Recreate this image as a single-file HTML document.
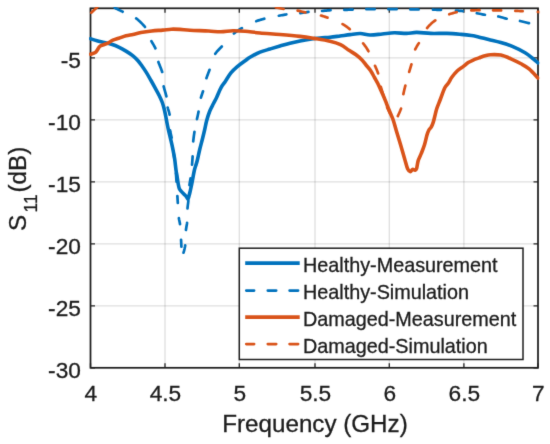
<!DOCTYPE html>
<html><head><meta charset="utf-8"><title>S11 plot</title>
<style>
html,body{margin:0;padding:0;background:#fff;}
body{width:550px;height:444px;overflow:hidden;}

svg{display:block;font-family:"Liberation Sans",Arial,sans-serif;fill:#262626;}
svg text{fill:#1c1c1c;stroke:#1c1c1c;stroke-width:0.3px;}
</style></head><body>
<svg width="550" height="444" viewBox="0 0 550 444"><defs><filter id="bl" color-interpolation-filters="sRGB" x="0" y="0" width="550" height="444" filterUnits="userSpaceOnUse"><feConvolveMatrix order="3" kernelMatrix="0.01000 0.08000 0.01000 0.08000 0.64000 0.08000 0.01000 0.08000 0.01000" edgeMode="duplicate"/></filter><clipPath id="c"><rect x="89.10" y="6.90" width="450.30" height="362.30"/></clipPath></defs><g filter="url(#bl)"><rect width="550" height="444" fill="#fff"/><path d="M165.00 8.30V367.80M239.30 8.30V367.80M315.00 8.30V367.80M389.30 8.30V367.80M463.90 8.30V367.80" stroke="#262626" stroke-opacity="0.15" stroke-width="1.3" fill="none"/><path d="M90.50 57.80H538.00M90.50 119.80H538.00M90.50 181.80H538.00M90.50 243.80H538.00M90.50 305.80H538.00" stroke="#262626" stroke-opacity="0.15" stroke-width="1.3" fill="none"/><path d="M90.50 367.80v-4.50M90.50 8.30v4.50M165.00 367.80v-4.50M165.00 8.30v4.50M239.30 367.80v-4.50M239.30 8.30v4.50M315.00 367.80v-4.50M315.00 8.30v4.50M389.30 367.80v-4.50M389.30 8.30v4.50M463.90 367.80v-4.50M463.90 8.30v4.50M538.00 367.80v-4.50M538.00 8.30v4.50M90.50 57.80h4.50M538.00 57.80h-4.50M90.50 119.80h4.50M538.00 119.80h-4.50M90.50 181.80h4.50M538.00 181.80h-4.50M90.50 243.80h4.50M538.00 243.80h-4.50M90.50 305.80h4.50M538.00 305.80h-4.50M90.50 367.80h4.50M538.00 367.80h-4.50" stroke="#262626" stroke-width="1.3" fill="none"/><rect x="90.5" y="8.3" width="447.50" height="359.50" stroke="#1e1e1e" stroke-width="1.75" fill="none"/><g clip-path="url(#c)" fill="none" stroke-linejoin="round" stroke-linecap="round"><path d="M90.50 38.70 C91.58 39.05 94.72 40.18 97.00 40.80 C99.28 41.42 101.78 41.82 104.20 42.40 C106.62 42.98 109.08 43.52 111.50 44.30 C113.92 45.08 116.28 45.97 118.70 47.10 C121.12 48.23 123.62 49.65 126.00 51.10 C128.38 52.55 131.03 54.23 133.00 55.80 C134.97 57.37 136.30 58.80 137.80 60.50 C139.30 62.20 140.58 64.02 142.00 66.00 C143.42 67.98 144.80 69.98 146.30 72.40 C147.80 74.82 149.47 77.80 151.00 80.50 C152.53 83.20 154.13 86.10 155.50 88.60 C156.87 91.10 158.07 93.18 159.20 95.50 C160.33 97.82 161.45 100.17 162.30 102.50 C163.15 104.83 163.73 107.25 164.30 109.50 C164.87 111.75 165.22 113.58 165.70 116.00 C166.18 118.42 166.70 121.50 167.20 124.00 C167.70 126.50 168.15 128.58 168.70 131.00 C169.25 133.42 169.85 135.70 170.50 138.50 C171.15 141.30 171.92 144.45 172.60 147.80 C173.28 151.15 174.03 154.90 174.60 158.60 C175.17 162.30 175.58 167.02 176.00 170.00 C176.42 172.98 176.75 174.30 177.10 176.50 C177.45 178.70 177.73 181.18 178.10 183.20 C178.47 185.22 178.77 187.23 179.30 188.60 C179.83 189.97 180.52 190.47 181.30 191.40 C182.08 192.33 183.17 193.33 184.00 194.20 C184.83 195.07 185.63 195.77 186.30 196.60 C186.97 197.43 187.57 199.27 188.00 199.20 C188.43 199.13 188.57 197.40 188.90 196.20 C189.23 195.00 189.67 193.37 190.00 192.00 C190.33 190.63 190.52 189.82 190.90 188.00 C191.28 186.18 191.75 183.93 192.30 181.10 C192.85 178.27 193.65 173.52 194.20 171.00 C194.75 168.48 195.10 167.70 195.60 166.00 C196.10 164.30 196.53 163.47 197.20 160.80 C197.87 158.13 198.75 153.55 199.60 150.00 C200.45 146.45 201.47 142.83 202.30 139.50 C203.13 136.17 203.87 133.17 204.60 130.00 C205.33 126.83 205.83 123.67 206.70 120.50 C207.57 117.33 208.67 113.83 209.80 111.00 C210.93 108.17 212.37 105.75 213.50 103.50 C214.63 101.25 215.62 99.58 216.60 97.50 C217.58 95.42 218.53 92.87 219.40 91.00 C220.27 89.13 220.82 87.90 221.80 86.30 C222.78 84.70 223.78 83.63 225.30 81.40 C226.82 79.17 228.95 75.32 230.90 72.90 C232.85 70.48 234.63 68.92 237.00 66.90 C239.37 64.88 242.93 62.40 245.10 60.80 C247.27 59.20 247.52 58.73 250.00 57.30 C252.48 55.87 256.67 53.58 260.00 52.20 C263.33 50.82 266.67 50.03 270.00 49.00 C273.33 47.97 276.67 46.97 280.00 46.00 C283.33 45.03 286.67 44.03 290.00 43.20 C293.33 42.37 296.67 41.67 300.00 41.00 C303.33 40.33 306.67 39.70 310.00 39.20 C313.33 38.70 316.67 38.32 320.00 38.00 C323.33 37.68 326.67 37.63 330.00 37.30 C333.33 36.97 336.65 36.45 340.00 36.00 C343.35 35.55 346.72 35.02 350.10 34.60 C353.48 34.18 356.98 33.43 360.30 33.50 C363.62 33.57 366.35 34.92 370.00 35.00 C373.65 35.08 378.15 34.37 382.20 34.00 C386.25 33.63 390.25 32.90 394.30 32.80 C398.35 32.70 402.78 33.47 406.50 33.40 C410.22 33.33 412.55 32.40 416.60 32.40 C420.65 32.40 425.73 33.23 430.80 33.40 C435.87 33.57 441.93 33.23 447.00 33.40 C452.07 33.57 457.15 34.05 461.20 34.40 C465.25 34.75 468.75 35.15 471.30 35.50 C473.85 35.85 473.62 35.83 476.50 36.50 C479.38 37.17 484.55 38.50 488.60 39.50 C492.65 40.50 496.75 41.32 500.80 42.50 C504.85 43.68 508.85 44.90 512.90 46.60 C516.95 48.30 521.72 50.67 525.10 52.70 C528.48 54.73 531.05 57.12 533.20 58.80 C535.35 60.48 537.20 62.13 538.00 62.80" stroke="#0072BD" stroke-width="3.6"/><path d="M114.72 7.87L115.95 8.45L117.23 9.07L118.53 9.70L119.86 10.35L121.20 11.00L122.55 11.65L122.68 11.72M136.18 18.41L136.98 19.03L137.94 19.83L138.91 20.67L139.88 21.54L140.84 22.44L141.77 23.37L142.67 24.31L143.54 25.26L144.35 26.21L144.99 27.02M151.40 41.11L151.91 42.03L152.60 43.24L153.30 44.41L153.98 45.57L154.63 46.73L155.22 47.93L155.41 48.34M158.40 61.99L158.84 63.24L159.25 64.29L159.67 65.35L160.11 66.43L160.54 67.50L160.97 68.58L161.38 69.65L161.76 70.71L162.09 71.76L162.16 71.99M163.66 86.32L163.98 87.65L164.27 88.76L164.58 89.87L164.90 90.99L165.23 92.10L165.55 93.20L165.86 94.27L166.14 95.31L166.40 96.31L166.41 96.38M167.68 107.52L168.04 108.87L168.40 110.03L168.76 111.23L169.11 112.46L169.42 113.73L169.61 114.66M170.06 130.24L170.28 131.60L170.54 132.85L170.82 134.07L171.11 135.27L171.40 136.48L171.66 137.67M173.46 151.34L173.63 152.75L173.80 154.12L173.96 155.50L174.12 156.88L174.28 158.25L174.44 159.62L174.45 159.66M175.92 173.34L176.03 174.73L176.13 176.09L176.23 177.46L176.32 178.82L176.42 180.20L176.51 181.59L176.51 181.65M177.38 196.05L177.45 197.16L177.52 198.29L177.59 199.39L177.66 200.51L177.74 201.66L177.81 202.85M178.87 218.14L179.04 219.15L179.24 220.16L179.52 221.45L179.73 222.43L179.92 223.48L180.03 224.16M181.07 239.75L181.14 241.18L181.20 242.51L181.26 243.79L181.31 244.99L181.37 246.11L181.40 246.65M183.54 252.72L183.83 251.69L184.17 250.41L184.51 248.99L184.72 248.00L184.93 246.98L185.11 245.97L185.21 245.34M185.93 229.96L186.11 228.69L186.30 227.50L186.51 226.34L186.72 225.19L186.91 224.02L187.07 222.84M187.50 208.35L187.62 207.10L187.76 205.88L187.91 204.68L188.07 203.46L188.22 202.21L188.37 200.90L188.38 200.84M189.45 185.16L189.61 183.91L189.79 182.75L189.97 181.62L190.16 180.52L190.35 179.40L190.52 178.34M192.02 164.66L192.14 163.28L192.25 161.93L192.35 160.58L192.45 159.22L192.54 157.84L192.62 156.44L192.63 156.35M193.22 141.36L193.35 140.12L193.47 139.07L193.59 138.03L193.73 136.98L193.87 135.94L194.02 134.92L194.17 133.90L194.32 132.90L194.49 131.83M196.97 119.08L197.22 117.90L197.49 116.67L197.76 115.42L198.03 114.18L198.29 112.91L198.55 111.63M200.93 97.69L201.23 96.62L201.59 95.52L201.95 94.45L202.32 93.38L202.69 92.30L203.02 91.29M206.41 78.21L206.89 76.84L207.37 75.52L207.88 74.19L208.39 72.83L208.93 71.44L209.28 70.48L209.54 69.77M215.29 53.84L216.02 52.79L216.64 51.98L217.29 51.21L217.96 50.47L218.65 49.73L219.35 49.00L220.08 48.27L220.82 47.51L221.56 46.74L221.79 46.50M233.92 33.52L235.00 32.65L235.82 32.02L236.65 31.42L237.48 30.84L238.31 30.29L239.57 29.49L240.43 28.96L241.30 28.44L241.93 28.08M256.26 21.21L257.27 20.84L258.58 20.39L259.87 19.97L261.16 19.59L262.45 19.22L263.77 18.87L264.29 18.73M278.83 15.75L280.14 15.51L281.40 15.28L282.64 15.06L283.87 14.86L285.11 14.66L286.36 14.48M300.34 13.14L301.73 12.94L303.08 12.74L304.43 12.53L305.76 12.33L307.10 12.13L308.45 11.95L308.46 11.95M322.05 10.99L323.48 10.85L324.88 10.71L326.29 10.56L327.69 10.42L329.10 10.29L330.50 10.18L330.55 10.18M344.35 9.96L345.76 9.90L347.13 9.83L348.51 9.76L349.88 9.69L351.25 9.62L352.63 9.56L352.65 9.55M366.35 9.19L367.75 9.18L369.12 9.18L370.50 9.18L371.88 9.19L373.25 9.19L374.62 9.20L374.65 9.20M388.35 9.20L389.75 9.20L391.12 9.19L392.50 9.19L393.88 9.19L395.25 9.19L396.62 9.19L396.65 9.19M410.35 9.42L411.74 9.43L413.10 9.44L414.46 9.45L415.83 9.46L417.21 9.47L418.60 9.48L418.65 9.48M432.95 9.72L434.32 9.74L435.65 9.76L436.96 9.78L438.28 9.80L439.62 9.82L440.99 9.86L441.05 9.86M455.95 10.58L457.10 10.64L458.24 10.71L459.34 10.78L460.44 10.85L461.57 10.95L462.66 11.05M476.83 13.24L478.25 13.50L479.61 13.77L480.95 14.04L482.29 14.30L483.62 14.55L484.96 14.79L484.97 14.79M498.32 16.47L499.74 16.81L501.12 17.18L502.50 17.57L503.88 17.96L505.26 18.34L506.64 18.69L506.68 18.70M520.02 20.98L521.12 21.23L522.13 21.46L523.16 21.70L524.18 21.95L525.19 22.21L526.20 22.46L527.17 22.71L528.58 23.07L528.99 23.17" stroke="#0072BD" stroke-width="2.7"/><path d="M90.50 54.20 C91.30 53.92 94.12 53.27 95.30 52.50 C96.48 51.73 96.85 50.63 97.60 49.60 C98.35 48.57 98.70 47.15 99.80 46.30 C100.90 45.45 102.87 45.03 104.20 44.50 C105.53 43.97 106.35 43.82 107.80 43.10 C109.25 42.38 111.08 41.00 112.90 40.20 C114.72 39.40 116.52 39.05 118.70 38.30 C120.88 37.55 123.62 36.35 126.00 35.70 C128.38 35.05 130.52 34.92 133.00 34.40 C135.48 33.88 137.77 33.17 140.90 32.60 C144.03 32.03 148.17 31.42 151.80 31.00 C155.43 30.58 159.43 30.40 162.70 30.10 C165.97 29.80 168.52 29.32 171.40 29.20 C174.28 29.08 176.90 29.23 180.00 29.40 C183.10 29.57 185.23 29.93 190.00 30.20 C194.77 30.47 203.47 30.73 208.60 31.00 C213.73 31.27 216.75 31.83 220.80 31.80 C224.85 31.77 228.85 30.88 232.90 30.80 C236.95 30.72 240.58 30.93 245.10 31.30 C249.62 31.67 254.18 32.47 260.00 33.00 C265.82 33.53 273.33 33.93 280.00 34.50 C286.67 35.07 294.33 35.75 300.00 36.40 C305.67 37.05 309.00 37.60 314.00 38.40 C319.00 39.20 325.58 40.17 330.00 41.20 C334.42 42.23 337.33 43.08 340.50 44.60 C343.67 46.12 346.42 48.60 349.00 50.30 C351.58 52.00 353.83 53.18 356.00 54.80 C358.17 56.42 360.33 58.30 362.00 60.00 C363.67 61.70 364.58 63.25 366.00 65.00 C367.42 66.75 369.08 68.42 370.50 70.50 C371.92 72.58 373.28 75.33 374.50 77.50 C375.72 79.67 376.72 81.33 377.80 83.50 C378.88 85.67 379.97 88.22 381.00 90.50 C382.03 92.78 383.07 94.98 384.00 97.20 C384.93 99.42 385.52 101.08 386.60 103.80 C387.68 106.52 389.40 110.80 390.50 113.50 C391.60 116.20 392.22 117.08 393.20 120.00 C394.18 122.92 395.18 126.92 396.40 131.00 C397.62 135.08 399.13 139.88 400.50 144.50 C401.87 149.12 403.42 154.65 404.60 158.70 C405.78 162.75 406.65 166.65 407.60 168.80 C408.55 170.95 409.47 171.50 410.30 171.60 C411.13 171.70 411.82 169.63 412.60 169.40 C413.38 169.17 414.33 170.35 415.00 170.20 C415.67 170.05 416.07 170.10 416.60 168.50 C417.13 166.90 417.42 163.12 418.20 160.60 C418.98 158.08 420.25 156.03 421.30 153.40 C422.35 150.77 423.57 147.82 424.50 144.80 C425.43 141.78 426.17 137.77 426.90 135.30 C427.63 132.83 428.18 131.35 428.90 130.00 C429.62 128.65 430.48 128.47 431.20 127.20 C431.92 125.93 432.60 124.22 433.20 122.40 C433.80 120.58 434.20 118.62 434.80 116.30 C435.40 113.98 435.88 111.30 436.80 108.50 C437.72 105.70 438.97 102.95 440.30 99.50 C441.63 96.05 443.45 90.55 444.80 87.80 C446.15 85.05 447.20 84.80 448.40 83.00 C449.60 81.20 450.50 79.05 452.00 77.00 C453.50 74.95 455.60 72.38 457.40 70.70 C459.20 69.02 461.00 68.25 462.80 66.90 C464.60 65.55 466.40 63.77 468.20 62.60 C470.00 61.43 471.80 60.68 473.60 59.90 C475.40 59.12 477.10 58.58 479.00 57.90 C480.90 57.22 483.07 56.33 485.00 55.80 C486.93 55.27 487.97 54.82 490.60 54.70 C493.23 54.58 497.42 54.42 500.80 55.10 C504.18 55.78 507.53 57.35 510.90 58.80 C514.27 60.25 517.97 62.12 521.00 63.80 C524.03 65.48 526.27 66.53 529.10 68.90 C531.93 71.27 536.52 76.48 538.00 78.00" stroke="#D95319" stroke-width="3.6"/><path d="M91.29 12.68L92.28 11.74L93.17 10.91L94.10 10.05L95.01 9.19L95.86 8.40L96.60 7.70L97.49 6.85L98.37 6.02L99.19 5.23L99.93 4.53L100.03 4.43" stroke="#D95319" stroke-width="2.7"/><path d="M275.92 7.48L277.24 7.77L278.51 8.04L279.76 8.29L281.01 8.54L282.28 8.77L283.57 8.99M297.63 10.63L298.91 10.89L300.16 11.17L301.40 11.47L302.65 11.77L303.94 12.09L305.28 12.40L305.38 12.42M321.01 15.54L322.17 15.86L323.24 16.19L324.27 16.53L325.30 16.89L326.37 17.28L327.52 17.72L327.54 17.72M342.58 24.05L343.53 24.60L344.69 25.32L345.80 26.06L346.90 26.84L348.00 27.70L349.15 28.65L349.79 29.20M363.15 43.35L364.05 44.51L364.67 45.34L365.26 46.15L366.08 47.35L366.86 48.55L367.61 49.78L368.35 51.05L368.44 51.22M375.03 65.84L375.46 66.83L376.01 68.10L376.54 69.33L377.05 70.55L377.52 71.77L377.97 73.00L378.10 73.41M380.84 86.81L381.11 87.80L381.52 89.21L381.95 90.61L382.39 92.01L382.83 93.40L383.26 94.75L383.41 95.21M387.10 107.26L387.56 108.37L388.09 109.57L388.64 110.76L389.20 111.90L389.75 112.97L390.12 113.64M397.83 116.06L398.32 115.00L398.89 113.77L399.49 112.44L399.89 111.52L400.28 110.58L400.64 109.63L400.98 108.69L401.01 108.59M403.36 94.17L403.57 93.13L403.88 91.72L404.20 90.32L404.54 88.93L404.88 87.54L405.23 86.15L405.37 85.61M409.18 71.90L409.56 70.64L409.94 69.40L410.31 68.18L410.69 66.94L411.06 65.68L411.43 64.37L411.45 64.30M415.20 49.45L415.72 48.35L416.28 47.32L416.86 46.33L417.48 45.34L418.12 44.30L418.80 43.17L418.85 43.08M427.04 28.04L427.68 27.27L428.47 26.39L429.29 25.52L430.13 24.67L430.99 23.86L431.87 23.07L432.77 22.30L433.67 21.57L434.58 20.88L435.29 20.36M449.27 14.25L450.57 13.82L451.78 13.43L452.98 13.08L454.17 12.76L455.40 12.45L456.67 12.17L456.68 12.17M471.35 10.41L472.80 10.34L474.17 10.29L475.53 10.26L476.87 10.23L478.21 10.22L479.55 10.21L479.55 10.21M493.05 10.32L494.38 10.34L495.72 10.36L497.06 10.39L498.40 10.41L499.75 10.44L501.12 10.47L501.15 10.47M515.35 10.85L516.55 10.89L517.75 10.93L518.94 10.98L520.13 11.03L521.36 11.08L522.64 11.14L522.65 11.14M537.85 11.89L538.97 11.98L539.66 12.05" stroke="#D95319" stroke-width="2.7"/></g><text x="90.90" y="400.6" font-size="22.7" text-anchor="middle">4</text><text x="165.40" y="400.6" font-size="22.7" text-anchor="middle">4.5</text><text x="239.70" y="400.6" font-size="22.7" text-anchor="middle">5</text><text x="315.40" y="400.6" font-size="22.7" text-anchor="middle">5.5</text><text x="389.70" y="400.6" font-size="22.7" text-anchor="middle">6</text><text x="464.30" y="400.6" font-size="22.7" text-anchor="middle">6.5</text><text x="538.40" y="400.6" font-size="22.7" text-anchor="middle">7</text><text x="80.9" y="67.70" font-size="22.7" text-anchor="end">-5</text><text x="80.9" y="129.70" font-size="22.7" text-anchor="end">-10</text><text x="80.9" y="191.70" font-size="22.7" text-anchor="end">-15</text><text x="80.9" y="253.70" font-size="22.7" text-anchor="end">-20</text><text x="80.9" y="315.70" font-size="22.7" text-anchor="end">-25</text><text x="80.9" y="377.70" font-size="22.7" text-anchor="end">-30</text><text x="315" y="432.3" font-size="24.2" text-anchor="middle">Frequency (GHz)</text><text transform="translate(26.0 231.0) rotate(-90)" font-size="24.2">S</text><text transform="translate(36.5 212.5) rotate(-90)" font-size="17.5">11</text><text transform="translate(26.0 192.5) rotate(-90)" font-size="24.2">(dB)</text><rect x="239.3" y="248.2" width="283.70" height="111.30" fill="#fff" stroke="#1e1e1e" stroke-width="1.5"/><path d="M245.2 263.1H299.7" stroke="#0072BD" stroke-width="3.6"/><text x="303" y="271.70" font-size="19.8">Healthy-Measurement</text><path d="M246.3 290.6H254.1M267.8 290.6H276.2M289.6 290.6H298.1" stroke="#0072BD" stroke-width="2.7" stroke-linecap="round"/><text x="303" y="299.20" font-size="19.8">Healthy-Simulation</text><path d="M245.2 317.1H299.7" stroke="#D95319" stroke-width="3.6"/><text x="303" y="325.70" font-size="19.8">Damaged-Measurement</text><path d="M246.3 344.1H254.1M267.8 344.1H276.2M289.6 344.1H298.1" stroke="#D95319" stroke-width="2.7" stroke-linecap="round"/><text x="303" y="352.70" font-size="19.8">Damaged-Simulation</text></g></svg>
</body></html>
